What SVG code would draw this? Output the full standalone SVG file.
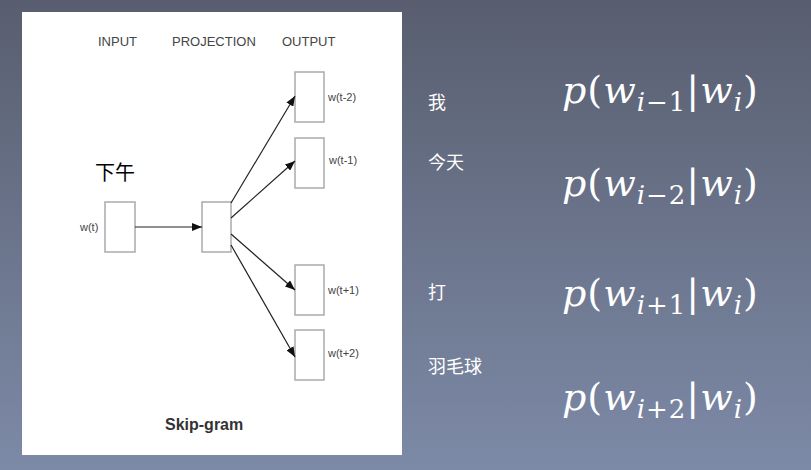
<svg xmlns="http://www.w3.org/2000/svg" width="811" height="470" viewBox="0 0 811 470">
<defs>
<linearGradient id="bg" x1="0" y1="0" x2="0" y2="1"><stop offset="0" stop-color="#585e6f"/><stop offset="1" stop-color="#7d8aa7"/></linearGradient>
<marker id="ah" markerWidth="10" markerHeight="8" refX="10" refY="4" orient="auto" markerUnits="userSpaceOnUse"><path d="M0,0 L10,4 L0,8 Z" fill="#111"/></marker>
</defs>
<style>
.box{fill:#fff;stroke:#aaa;stroke-width:1.5}
.lb{font-family:"Liberation Sans",Arial,sans-serif;font-size:11px;fill:#444}
.hd{font-family:"Liberation Sans",Arial,sans-serif;font-size:13px;fill:#444}
.cn{font-family:"Noto Sans CJK SC",sans-serif;font-size:18px;fill:#fff}
.f{font-family:"DejaVu Serif",serif;font-style:italic;font-size:38px;fill:#fff;letter-spacing:1px}
.s{font-size:26px}
.u{font-style:normal}
.e{stroke:#222;stroke-width:1.2;fill:none;marker-end:url(#ah)}
</style>
<rect width="811" height="470" fill="url(#bg)"/>
<rect x="22" y="12" width="380" height="443" fill="#fff"/>
<text class="hd" x="98" y="46">INPUT</text>
<text class="hd" x="172" y="46">PROJECTION</text>
<text class="hd" x="282" y="46">OUTPUT</text>
<text x="95" y="180" font-family="Noto Sans CJK SC,sans-serif" font-size="20" fill="#000">下午</text>
<g id="input"><rect class="box" x="105" y="202" width="30" height="50"/><text class="lb" x="80" y="231">w(t)</text></g>
<g id="proj"><rect class="box" x="202" y="202" width="29" height="50"/></g>
<g id="o1"><rect class="box" x="295" y="72" width="29" height="50"/><text class="lb" x="328" y="101">w(t-2)</text></g>
<g id="o2"><rect class="box" x="295" y="138" width="29" height="50"/><text class="lb" x="329" y="164">w(t-1)</text></g>
<g id="o3"><rect class="box" x="295" y="265" width="29" height="50"/><text class="lb" x="328" y="294">w(t+1)</text></g>
<g id="o4"><rect class="box" x="295" y="330" width="29" height="50"/><text class="lb" x="328" y="357">w(t+2)</text></g>
<g id="edges">
<line class="e" x1="135" y1="227" x2="202" y2="227"/>
<line class="e" x1="231" y1="203" x2="295" y2="96"/>
<line class="e" x1="231" y1="218" x2="295" y2="161"/>
<line class="e" x1="231" y1="234" x2="295" y2="290"/>
<line class="e" x1="231" y1="245" x2="295" y2="357"/>
</g>
<text x="165" y="430" font-family="Liberation Sans,Arial,sans-serif" font-size="16" font-weight="bold" fill="#333">Skip-gram</text>
<text class="cn" x="428" y="109">我</text>
<text class="cn" x="428" y="169">今天</text>
<text class="cn" x="428" y="299">打</text>
<text class="cn" x="428" y="373">羽毛球</text>
<text class="f" x="562" y="103">p<tspan class="u">(</tspan>w<tspan class="s" dy="8">i</tspan><tspan class="s u">−1</tspan><tspan class="u" dy="-8">|</tspan>w<tspan class="s" dy="8">i</tspan><tspan class="u" dy="-8">)</tspan></text>
<text class="f" x="562" y="196">p<tspan class="u">(</tspan>w<tspan class="s" dy="8">i</tspan><tspan class="s u">−2</tspan><tspan class="u" dy="-8">|</tspan>w<tspan class="s" dy="8">i</tspan><tspan class="u" dy="-8">)</tspan></text>
<text class="f" x="562" y="306">p<tspan class="u">(</tspan>w<tspan class="s" dy="8">i</tspan><tspan class="s u">+1</tspan><tspan class="u" dy="-8">|</tspan>w<tspan class="s" dy="8">i</tspan><tspan class="u" dy="-8">)</tspan></text>
<text class="f" x="562" y="410">p<tspan class="u">(</tspan>w<tspan class="s" dy="8">i</tspan><tspan class="s u">+2</tspan><tspan class="u" dy="-8">|</tspan>w<tspan class="s" dy="8">i</tspan><tspan class="u" dy="-8">)</tspan></text>
</svg>
